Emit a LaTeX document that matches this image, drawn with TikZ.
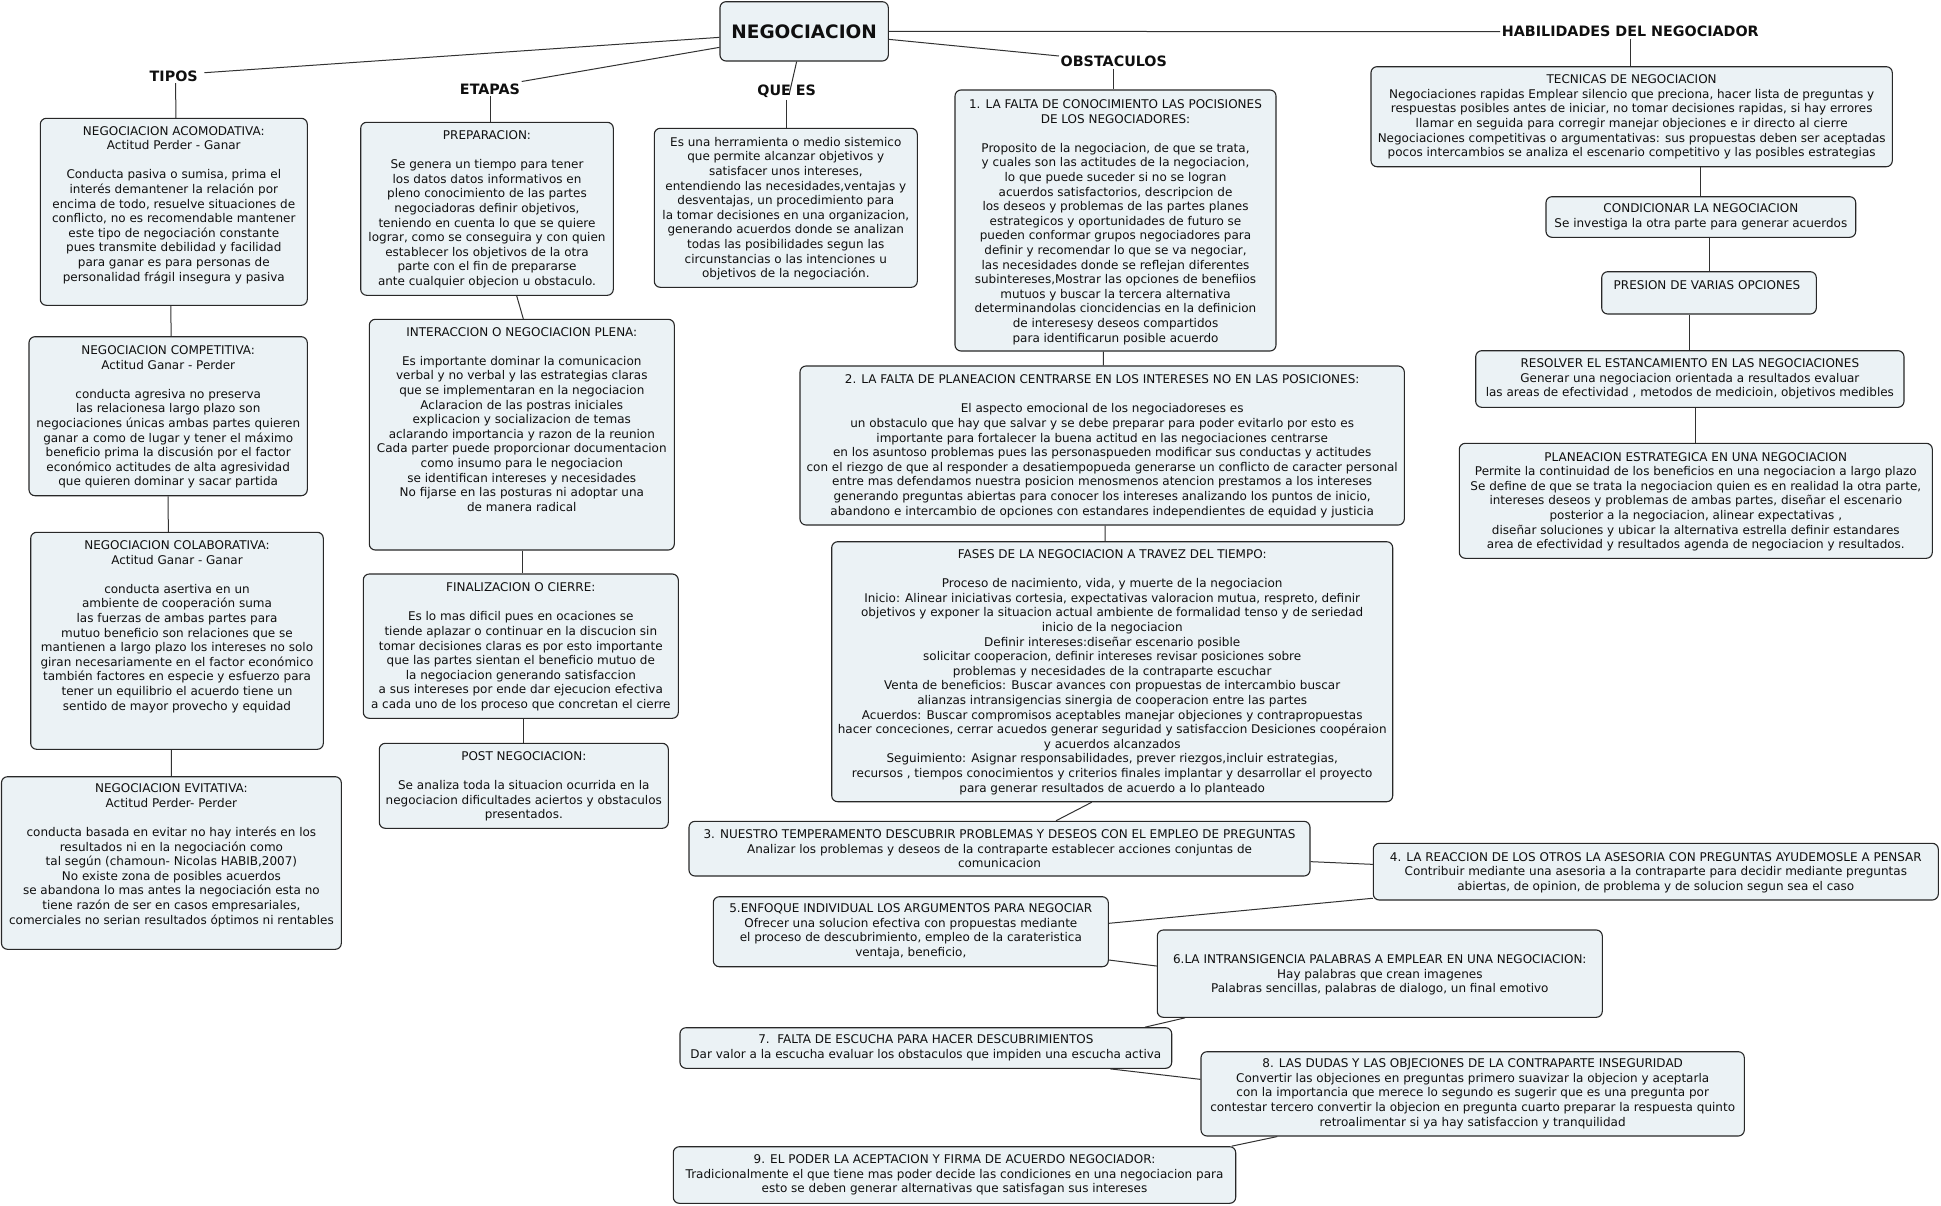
\documentclass[tikz,border=0pt]{standalone}
\usepackage{fontspec}
\setmainfont{DejaVu Sans}
\usetikzlibrary{backgrounds}
\definecolor{boxfill}{RGB}{235,242,245}
\definecolor{boxline}{RGB}{40,40,40}
\definecolor{lnc}{RGB}{50,50,50}
\definecolor{txt}{RGB}{15,15,15}
\begin{document}
\begin{tikzpicture}[x=1pt,y=-1pt,
  bx/.style={draw=boxline, fill=boxfill, rounded corners=6pt, line width=1.1pt, inner sep=0pt},
  tx/.style={align=center, inner sep=0pt, anchor=north, font=\fontsize{12}{14.6}\selectfont, text=txt},
  hd/.style={font=\bfseries\fontsize{14.3}{16}\selectfont, inner sep=1.5pt, text=txt},
  conn/.style={draw=lnc, line width=1pt}]
\useasboundingbox (0,0) rectangle (1941,1205);

% central node and headings
\node[bx, minimum width=168.3pt, minimum height=59.3pt, font=\bfseries\fontsize{18.5}{20}\selectfont, text=txt] (negoc) at (804.15,31.35) {NEGOCIACION};
\node[hd] (tipos) at (173.7,76) {TIPOS};
\node[hd] (etapas) at (490,89) {ETAPAS};
\node[hd] (quelbl) at (786.7,91.7) {QUE ES};
\node[hd] (obstlbl) at (1113.8,61.7) {OBSTACULOS};
\node[hd] (habil) at (1630.3,31.7) {HABILIDADES DEL NEGOCIADOR};

% TIPOS
\node[bx, minimum width=267pt, minimum height=187pt] (acom) at (173.8,211.8) {};
\node[tx] (acomt) at (173.8,126.0) {NEGOCIACION ACOMODATIVA:\\Actitud Perder - Ganar\\ \\Conducta pasiva o sumisa, prima el\\interés demantener la relación por\\encima de todo, resuelve situaciones de\\conflicto, no es recomendable mantener\\este tipo de negociación constante\\pues transmite debilidad y facilidad\\para ganar es para personas de\\personalidad frágil insegura y pasiva};

\node[bx, minimum width=278.3pt, minimum height=159pt] (comp) at (168.15,416.2) {};
\node[tx] (compt) at (168.2,345.3) {NEGOCIACION COMPETITIVA:\\Actitud Ganar - Perder\\ \\conducta agresiva no preserva\\las relacionesa largo plazo son\\negociaciones únicas ambas partes quieren\\ganar a como de lugar y tener el máximo\\beneficio prima la discusión por el factor\\económico actitudes de alta agresividad\\que quieren dominar y sacar partida};

\node[bx, minimum width=292.6pt, minimum height=217pt] (colab) at (177,640.8) {};
\node[tx] (colabt) at (177,540.3) {NEGOCIACION COLABORATIVA:\\Actitud Ganar - Ganar\\ \\conducta asertiva en un\\ambiente de cooperación suma\\las fuerzas de ambas partes para\\mutuo beneficio son relaciones que se\\mantienen a largo plazo los intereses no solo\\giran necesariamente en el factor económico\\también factores en especie y esfuerzo para\\tener un equilibrio el acuerdo tiene un\\sentido de mayor provecho y equidad};

\node[bx, minimum width=339.8pt, minimum height=172.6pt] (evit) at (171.4,863) {};
\node[tx] (evitt) at (171.4,783.6) {NEGOCIACION EVITATIVA:\\Actitud Perder- Perder\\ \\conducta basada en evitar no hay interés en los\\resultados ni en la negociación como\\tal según (chamoun- Nicolas HABIB,2007)\\No existe zona de posibles acuerdos\\se abandona lo mas antes la negociación esta no\\tiene razón de ser en casos empresariales,\\comerciales no serian resultados óptimos ni rentables};

% ETAPAS
\node[bx, minimum width=252.6pt, minimum height=173pt] (prep) at (487,208.8) {};
\node[tx] (prept) at (487,130.3) {PREPARACION:\\ \\Se genera un tiempo para tener\\los datos datos informativos en\\pleno conocimiento de las partes\\negociadoras definir objetivos,\\teniendo en cuenta lo que se quiere\\lograr, como se conseguira y con quien\\establecer los objetivos de la otra\\parte con el fin de prepararse\\ante cualquier objecion u obstaculo.};

\node[bx, minimum width=305pt, minimum height=230.7pt] (inter) at (521.8,434.65) {};
\node[tx] (intert) at (521.8,327.0) {INTERACCION O NEGOCIACION PLENA:\\ \\Es importante dominar la comunicacion\\verbal y no verbal y las estrategias claras\\que se implementaran en la negociacion\\Aclaracion de las postras iniciales\\explicacion y socializacion de temas\\aclarando importancia y razon de la reunion\\Cada parter puede proporcionar documentacion\\como insumo para le negociacion\\se identifican intereses y necesidades\\No fijarse en las posturas ni adoptar una\\de manera radical};

\node[bx, minimum width=315pt, minimum height=144.3pt] (final) at (520.8,646.15) {};
\node[tx] (finalt) at (520.8,582.6) {FINALIZACION O CIERRE:\\ \\Es lo mas dificil pues en ocaciones se\\tiende aplazar o continuar en la discucion sin\\tomar decisiones claras es por esto importante\\que las partes sientan el beneficio mutuo de\\la negociacion generando satisfaccion\\a sus intereses por ende dar ejecucion efectiva\\a cada uno de los proceso que concretan el cierre};

\node[bx, minimum width=289pt, minimum height=85pt] (post) at (523.8,785.8) {};
\node[tx] (postt) at (523.8,751.3) {POST NEGOCIACION:\\ \\Se analiza toda la situacion ocurrida en la\\negociacion dificultades aciertos y obstaculos\\presentados.};

% QUE ES
\node[bx, minimum width=263pt, minimum height=159pt] (quees) at (785.8,207.8) {};
\node[tx] (queest) at (785.8,137.0) {Es una herramienta o medio sistemico\\que permite alcanzar objetivos y\\satisfacer unos intereses,\\entendiendo las necesidades,ventajas y\\desventajas, un procedimiento para\\la tomar decisiones en una organizacion,\\generando acuerdos donde se analizan\\todas las posibilidades segun las\\circunstancias o las intenciones u\\objetivos de la negociación.};

% OBSTACULOS
\node[bx, minimum width=321pt, minimum height=261pt] (obst1) at (1115.5,220.5) {};
\node[tx] (obst1t) at (1115.5,99.3) {1. LA FALTA DE CONOCIMIENTO LAS POCISIONES\\DE LOS NEGOCIADORES:\\ \\Proposito de la negociacion, de que se trata,\\y cuales son las actitudes de la negociacion,\\lo que puede suceder si no se logran\\acuerdos satisfactorios, descripcion de\\los deseos y problemas de las partes planes\\estrategicos y oportunidades de futuro se\\pueden conformar grupos negociadores para\\definir y recomendar lo que se va negociar,\\las necesidades donde se reflejan diferentes\\subintereses,Mostrar las opciones de benefiios\\mutuos y buscar la tercera alternativa\\determinandolas cioncidencias en la definicion\\de interesesy deseos compartidos\\para identificarun posible acuerdo};

\node[bx, minimum width=604.3pt, minimum height=159pt] (obst2) at (1102.15,445.5) {};
\node[tx] (obst2t) at (1102.15,374.6) {2. LA FALTA DE PLANEACION CENTRARSE EN LOS INTERESES NO EN LAS POSICIONES:\\ \\El aspecto emocional de los negociadoreses es\\un obstaculo que hay que salvar y se debe preparar para poder evitarlo por esto es\\importante para fortalecer la buena actitud en las negociaciones centrarse\\en los asuntoso problemas pues las personaspueden modificar sus conductas y actitudes\\con el riezgo de que al responder a desatiempopueda generarse un conflicto de caracter personal\\entre mas defendamos nuestra posicion menosmenos atencion prestamos a los intereses\\generando preguntas abiertas para conocer los intereses analizando los puntos de inicio,\\abandono e intercambio de opciones con estandares independientes de equidad y justicia};

\node[bx, minimum width=561pt, minimum height=260pt] (fases) at (1112.2,671.7) {};
\node[tx] (fasest) at (1112.2,549.3) {FASES DE LA NEGOCIACION A TRAVEZ DEL TIEMPO:\\ \\Proceso de nacimiento, vida, y muerte de la negociacion\\Inicio: Alinear iniciativas cortesia, expectativas valoracion mutua, respreto, definir\\objetivos y exponer la situacion actual ambiente de formalidad tenso y de seriedad\\inicio de la negociacion\\Definir intereses:diseñar escenario posible\\solicitar cooperacion, definir intereses revisar posiciones sobre\\problemas y necesidades de la contraparte escuchar\\Venta de beneficios: Buscar avances con propuestas de intercambio buscar\\alianzas intransigencias sinergia de cooperacion entre las partes\\Acuerdos: Buscar compromisos aceptables manejar objeciones y contrapropuestas\\hacer conceciones, cerrar acuedos generar seguridad y satisfaccion Desiciones coopéraion\\y acuerdos alcanzados\\Seguimiento: Asignar responsabilidades, prever riezgos,incluir estrategias,\\recursos , tiempos conocimientos y criterios finales implantar y desarrollar el proyecto\\para generar resultados de acuerdo a lo planteado};

\node[bx, minimum width=621pt, minimum height=54.7pt] (obst3) at (999.5,848.65) {};
\node[tx] (obst3t) at (999.5,829.6) {3. NUESTRO TEMPERAMENTO DESCUBRIR PROBLEMAS Y DESEOS CON EL EMPLEO DE PREGUNTAS\\Analizar los problemas y deseos de la contraparte establecer acciones conjuntas de\\comunicacion};

\node[bx, minimum width=565pt, minimum height=56.7pt] (obst4) at (1655.8,871.65) {};
\node[tx] (obst4t) at (1655.8,852.0) {4. LA REACCION DE LOS OTROS LA ASESORIA CON PREGUNTAS AYUDEMOSLE A PENSAR\\Contribuir mediante una asesoria a la contraparte para decidir mediante preguntas\\abiertas, de opinion, de problema y de solucion segun sea el caso};

\node[bx, minimum width=395pt, minimum height=70pt] (obst5) at (910.8,931.7) {};
\node[tx] (obst5t) at (910.8,903.6) {5.ENFOQUE INDIVIDUAL LOS ARGUMENTOS PARA NEGOCIAR\\Ofrecer una solucion efectiva con propuestas mediante\\el proceso de descubrimiento, empleo de la carateristica\\ventaja, beneficio,};

\node[bx, minimum width=445pt, minimum height=87.3pt] (obst6) at (1379.8,973.65) {};
\node[tx] (obst6t) at (1379.8,954.6) {6.LA INTRANSIGENCIA PALABRAS A EMPLEAR EN UNA NEGOCIACION:\\Hay palabras que crean imagenes\\Palabras sencillas, palabras de dialogo, un final emotivo};

\node[bx, minimum width=491.7pt, minimum height=40.6pt] (obst7) at (925.85,1048) {};
\node[tx] (obst7t) at (925.85,1034.6) {7.\ \ FALTA DE ESCUCHA PARA HACER DESCUBRIMIENTOS\\Dar valor a la escucha evaluar los obstaculos que impiden una escucha activa};

\node[bx, minimum width=543.3pt, minimum height=84.3pt] (obst8) at (1472.65,1093.85) {};
\node[tx] (obst8t) at (1472.65,1058.6) {8. LAS DUDAS Y LAS OBJECIONES DE LA CONTRAPARTE INSEGURIDAD\\Convertir las objeciones en preguntas primero suavizar la objecion y aceptarla\\con la importancia que merece lo segundo es sugerir que es una pregunta por\\contestar tercero convertir la objecion en pregunta cuarto preparar la respuesta quinto\\retroalimentar si ya hay satisfaccion y tranquilidad};

\node[bx, minimum width=562.4pt, minimum height=56.6pt] (obst9) at (954.5,1175) {};
\node[tx] (obst9t) at (954.5,1154.6) {9. EL PODER LA ACEPTACION Y FIRMA DE ACUERDO NEGOCIADOR:\\Tradicionalmente el que tiene mas poder decide las condiciones en una negociacion para\\esto se deben generar alternativas que satisfagan sus intereses};

% HABILIDADES
\node[bx, minimum width=521.3pt, minimum height=100pt] (tecn) at (1631.65,116.7) {};
\node[tx] (tecnt) at (1631.65,74.6) {TECNICAS DE NEGOCIACION\\Negociaciones rapidas Emplear silencio que preciona, hacer lista de preguntas y\\respuestas posibles antes de iniciar, no tomar decisiones rapidas, si hay errores\\llamar en seguida para corregir manejar objeciones e ir directo al cierre\\Negociaciones competitivas o argumentativas: sus propuestas deben ser aceptadas\\pocos intercambios se analiza el escenario competitivo y las posibles estrategias};

\node[bx, minimum width=309.7pt, minimum height=40.6pt] (cond) at (1700.85,217) {};
\node[tx] (condt) at (1700.85,203.6) {CONDICIONAR LA NEGOCIACION\\Se investiga la otra parte para generar acuerdos};

\node[bx, minimum width=214.6pt, minimum height=42.3pt] (pres) at (1709,292.85) {};
\node[tx] (prest) at (1707,280.3) {PRESION DE VARIAS OPCIONES};

\node[bx, minimum width=428.3pt, minimum height=56.6pt] (resol) at (1689.85,379) {};
\node[tx] (resolt) at (1689.85,358.6) {RESOLVER EL ESTANCAMIENTO EN LAS NEGOCIACIONES\\Generar una negociacion orientada a resultados evaluar\\las areas de efectividad , metodos de medicioin, objetivos medibles};

\node[bx, minimum width=473pt, minimum height=115pt] (plan) at (1695.8,500.8) {};
\node[tx] (plant) at (1695.8,452.0) {PLANEACION ESTRATEGICA EN UNA NEGOCIACION\\Permite la continuidad de los beneficios en una negociacion a largo plazo\\Se define de que se trata la negociacion quien es en realidad la otra parte,\\intereses deseos y problemas de ambas partes, diseñar el escenario\\posterior a la negociacion, alinear expectativas ,\\diseñar soluciones y ubicar la alternativa estrella definir estandares\\area de efectividad y resultados agenda de negociacion y resultados.};

% connectors
\begin{scope}[on background layer]
\fill[white] (0,0) rectangle (1941,1205);
\draw[conn] ([yshift=-6pt]negoc.west) -- ([xshift=5pt,yshift=3.3pt]tipos.east);
\draw[conn] ([yshift=-16pt]negoc.west) -- ([yshift=7.5pt]etapas.east);
\draw[conn] ([xshift=-7.5pt]negoc.south) -- ([xshift=2.3pt,yshift=-3.3pt]quelbl.center);
\draw[conn] (negoc.east) -- (habil.west);
\draw[conn] ([yshift=-8pt]negoc.east) -- ([yshift=5.7pt]obstlbl.west);
\draw[conn] ([xshift=2pt]tipos.south) -- ([xshift=2pt]acom.north);
\draw[conn] ([xshift=-3pt]acom.south) -- ([xshift=3pt]comp.north);
\draw[conn] (comp.south) -- ([xshift=-8.7pt]colab.north);
\draw[conn] ([xshift=-5.7pt]colab.south) -- (evit.north);
\draw[conn] (etapas.south) -- ([xshift=3pt]prep.north);
\draw[conn] ([xshift=29.7pt]prep.south) -- ([xshift=1.5pt]inter.north);
\draw[conn] ([xshift=0.5pt]inter.south) -- ([xshift=1.5pt]final.north);
\draw[conn] ([xshift=2.5pt]final.south) -- ([xshift=-0.5pt]post.north);
\draw[conn] (quelbl.south) -- (quelbl.south |- quees.north);
\draw[conn] (obstlbl.south) -- (obstlbl.south |- obst1.north);
\draw[conn] ([xshift=-12.2pt]obst1.south) -- ([xshift=1.2pt]obst2.north);
\draw[conn] ([xshift=2.9pt]obst2.south) -- ([xshift=-7.2pt]fases.north);
\draw[conn] ([xshift=-20.5pt]fases.south) -- ([xshift=56.5pt]obst3.north);
\draw[conn] ([yshift=-13pt]obst3.east) -- ([yshift=7.3pt]obst4.west);
\draw[conn] ([yshift=-26.6pt]obst4.west) -- ([yshift=8.4pt]obst5.east);
\draw[conn] ([yshift=-28.3pt]obst5.east) -- ([yshift=7.6pt]obst6.west);
\draw[conn] ([xshift=-194.8pt]obst6.south) -- ([xshift=219.2pt]obst7.north);
\draw[conn] ([xshift=184.2pt]obst7.south) -- ([yshift=14.5pt]obst8.west);
\draw[conn] ([xshift=-195.4pt]obst8.south) -- ([xshift=277.2pt]obst9.north);
\draw[conn] (habil.south) -- (habil.south |- tecn.north);
\draw[conn] (cond.north |- tecn.south) -- (cond.north);
\draw[conn] (pres.north |- cond.south) -- (pres.north);
\draw[conn] (resol.north |- pres.south) -- (resol.north);
\draw[conn] (plan.north |- resol.south) -- (plan.north);
\end{scope}
\end{tikzpicture}
\end{document}
